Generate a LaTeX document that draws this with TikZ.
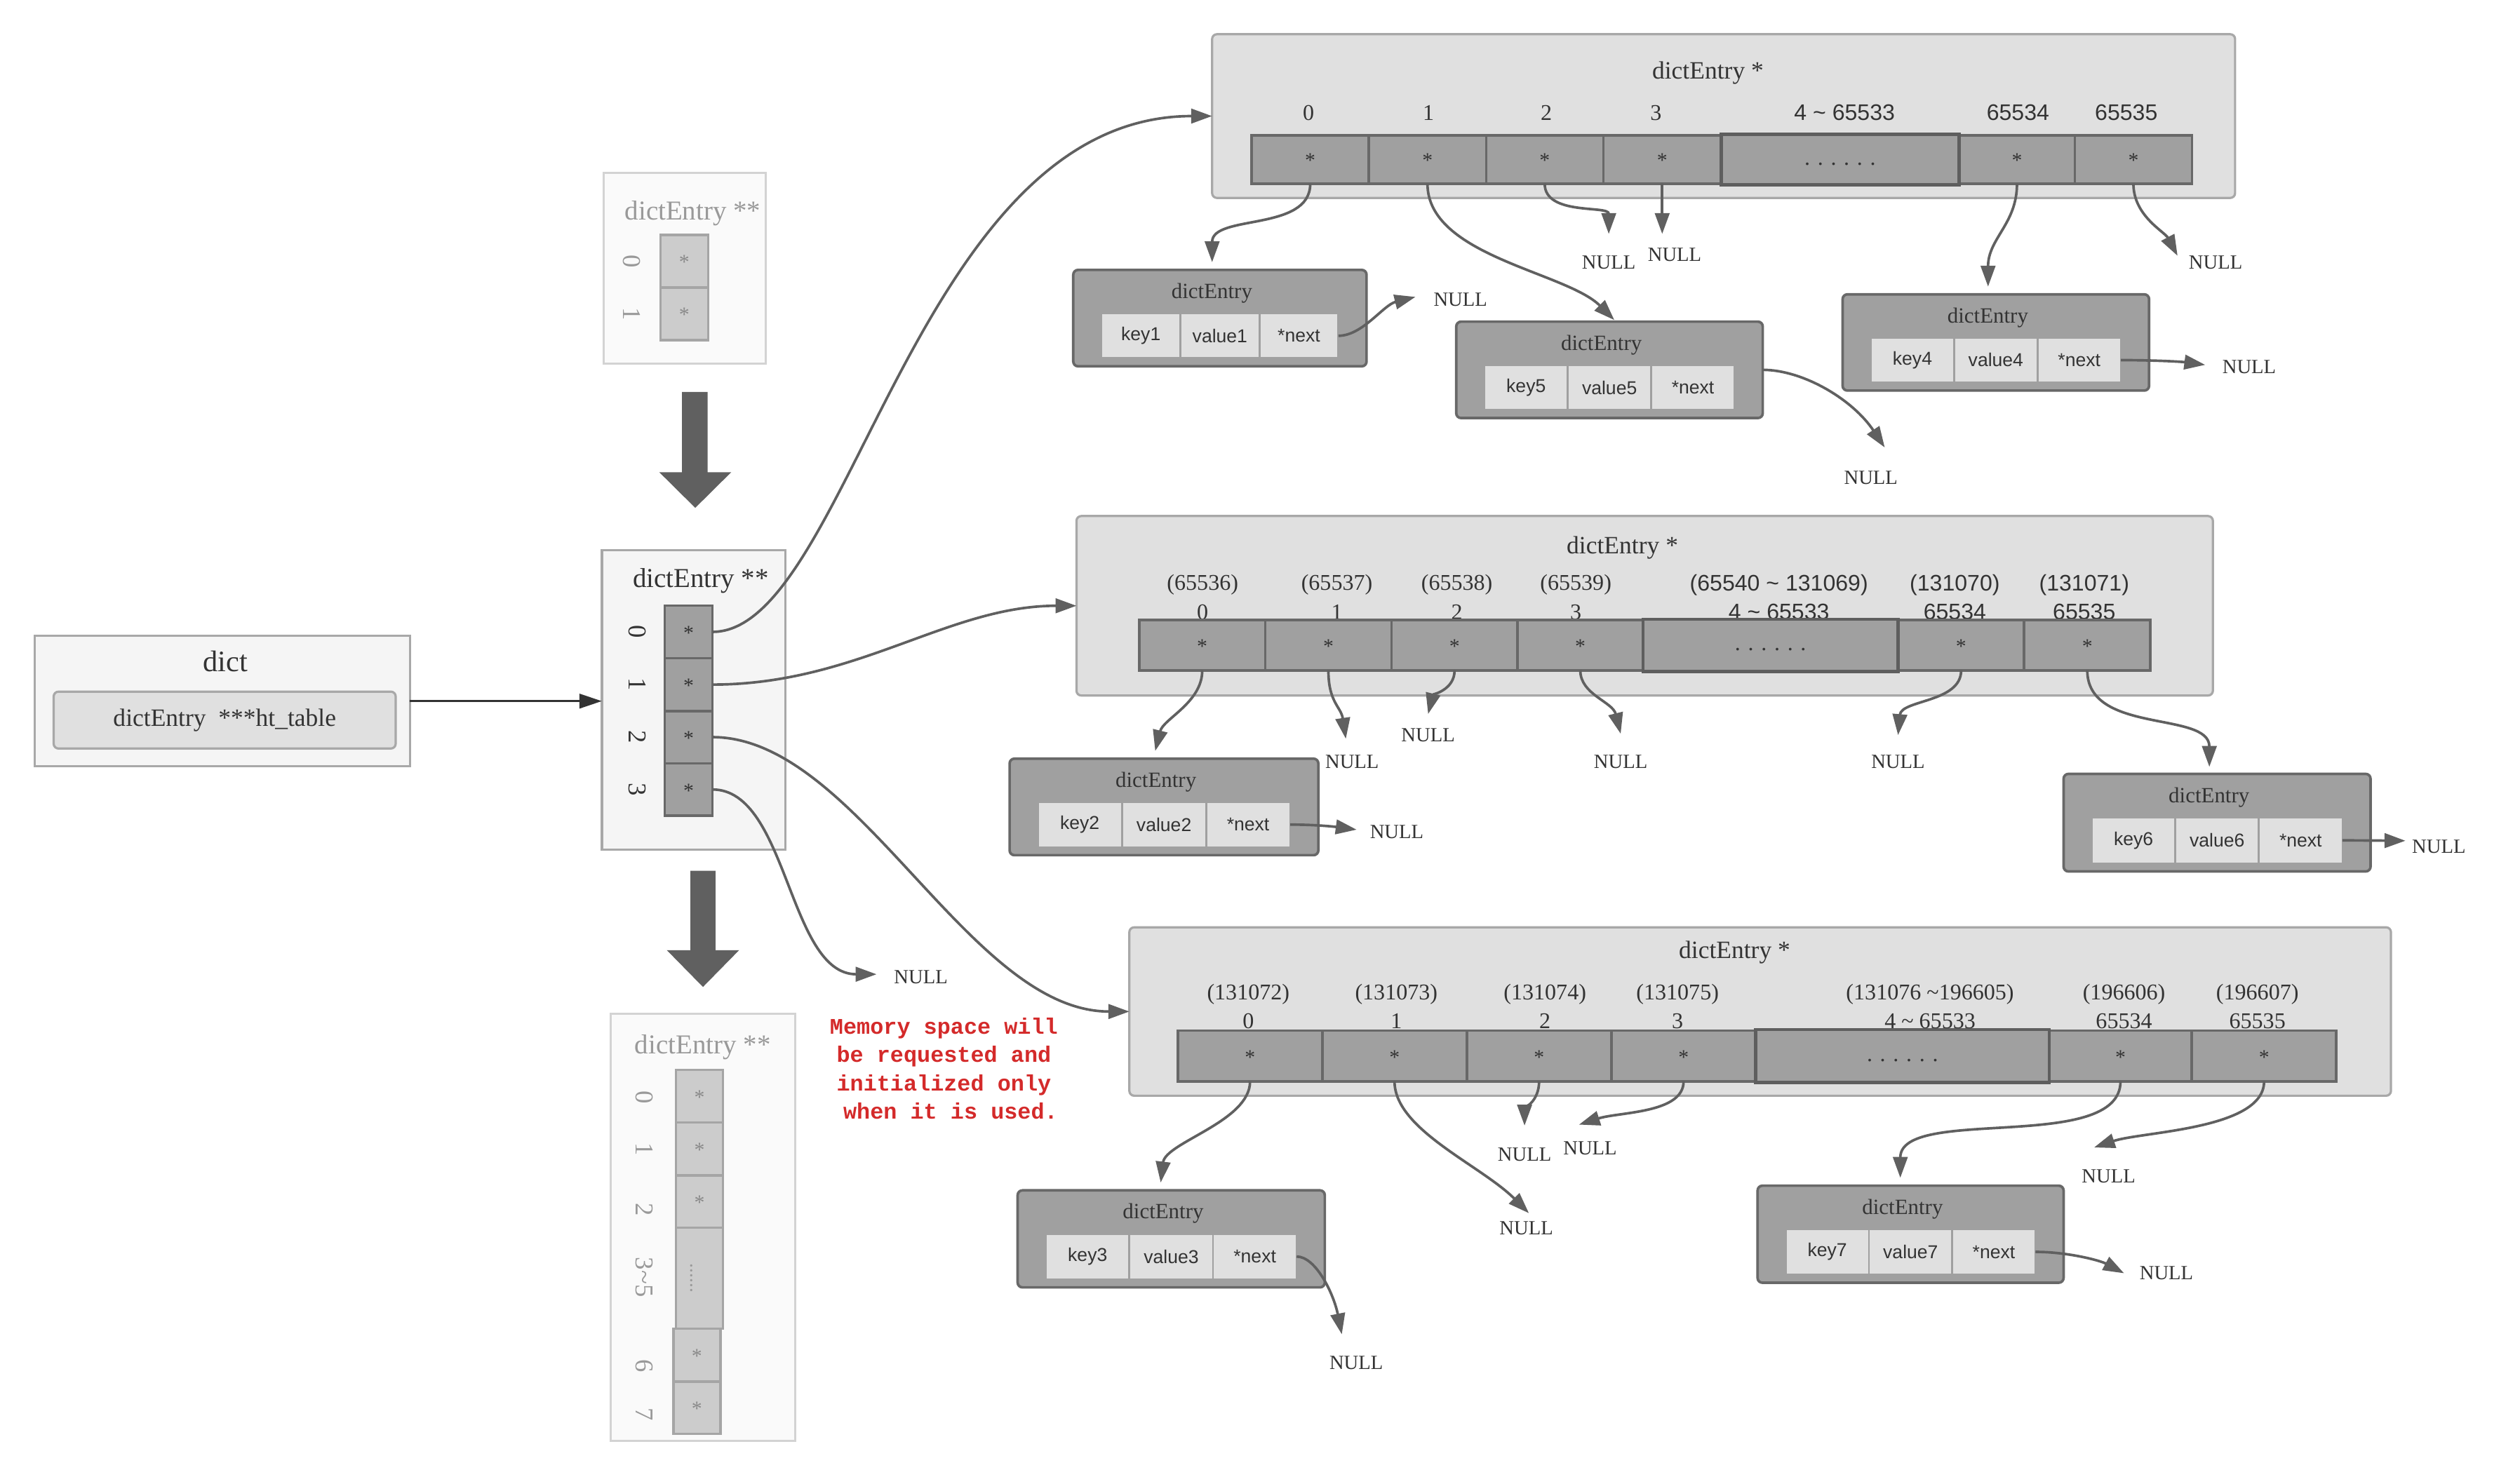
\documentclass[tikz,border=0pt]{standalone}
\usepackage{fontspec}
\setmainfont{Liberation Serif}
\setsansfont{Liberation Sans}
\setmonofont{Liberation Mono}
\usetikzlibrary{arrows.meta}
\definecolor{txt}{HTML}{333333}
\definecolor{cont}{HTML}{E0E0E0}
\definecolor{contb}{HTML}{A8A8A8}
\definecolor{cellf}{HTML}{A0A0A0}
\definecolor{cellb}{HTML}{686868}
\definecolor{lite}{HTML}{E0E0E0}
\definecolor{arr}{HTML}{606060}
\definecolor{panef}{HTML}{F5F5F5}
\definecolor{fadef}{HTML}{FAFAFA}
\definecolor{fadeb}{HTML}{D3D3D3}
\definecolor{fadecell}{HTML}{CCCCCC}
\definecolor{fadecellb}{HTML}{A5A5A5}
\definecolor{fadetxt}{HTML}{999999}
\definecolor{memred}{HTML}{D42A2A}
\tikzset{
  every node/.style={inner sep=0pt,outer sep=0pt,text=txt},
  container/.style={draw=contb,fill=cont,line width=1.4pt,rounded corners=3pt},
  pane/.style={draw=contb,fill=panef,line width=1.4pt},
  fadepane/.style={draw=fadeb,fill=fadef,line width=1.4pt},
  innerbox/.style={draw=contb,fill=cont,line width=1.4pt,rounded corners=3pt,font=\fontsize{15.5}{15.5}\selectfont},
  tcell/.style={draw=cellb,fill=cellf,line width=1.6pt,font=\fontsize{13}{13}\selectfont,text height=1em,text depth=0pt},
  dotcell/.style={draw=cellb!90!black,fill=cellf,line width=2pt,font=\fontsize{14}{14}\selectfont,text height=0.67em,text depth=0pt},
  fcell/.style={draw=fadecellb,fill=fadecell,line width=1.5pt,text=fadetxt!90!black,font=\fontsize{13}{13}\selectfont,text height=1em,text depth=0pt},
  ebox/.style={draw=cellb,fill=cellf,line width=1.6pt,rounded corners=3pt},
  ecell/.style={draw=cellf,fill=lite,line width=1.2pt,font=\sffamily\fontsize{11.6}{11.6}\selectfont},
  etitle/.style={font=\fontsize{13.5}{13.5}\selectfont},
  ttitle/.style={font=\fontsize{15.5}{15.5}\selectfont},
  ptitle/.style={font=\fontsize{17}{17}\selectfont},
  dtitle/.style={font=\fontsize{18.5}{18.5}\selectfont},
  idx/.style={font=\fontsize{14}{14}\selectfont},
  sidx/.style={font=\sffamily\fontsize{14}{14}\selectfont},
  rowlab/.style={font=\fontsize{16}{16}\selectfont,rotate=-90},
  null/.style={font=\fontsize{12.5}{12.5}\selectfont},
  conn/.style={draw=arr,line width=1.6pt,-{Triangle[length=13pt,width=9pt]}},
  darr/.style={draw=black!80,line width=1.4pt,-{Triangle[length=14pt,width=9pt]}},
  bigarr/.style={fill=arr},
  memo/.style={font=\ttfamily\bfseries\fontsize{13.9}{17.5}\selectfont,text=memred,align=center}
}
\newcommand\cornerbox[7]{\node[#1,anchor=north west,minimum width=#4pt-#2pt,minimum height=#5pt-#3pt] (#6) at (#2,#3) {#7};}
\newcommand\dictentrybox[6]{%
  \pgfmathsetmacro\eXl{#2+17.5}\pgfmathsetmacro\eXr{#4-17.5}%
  \pgfmathsetmacro\eXw{(\eXr-\eXl)/3}%
  \pgfmathsetmacro\eXa{\eXl+\eXw}\pgfmathsetmacro\eXb{\eXl+2*\eXw}%
  \pgfmathsetmacro\eXt{#3+27}\pgfmathsetmacro\eXu{#5-5}%
  \cornerbox{ebox}{#2}{#3}{#4}{#5}{#1}{}%
  \node[etitle] (#1t) at ({(#2+#4)/2-5},{#3+14.5}) {dictEntry};%
  \cornerbox{ecell}{\eXl}{\eXt}{\eXa}{\eXu}{#1k}{key#6}%
  \cornerbox{ecell}{\eXa}{\eXt}{\eXb}{\eXu}{#1v}{value#6}%
  \cornerbox{ecell}{\eXb}{\eXt}{\eXr}{\eXu}{#1n}{*next}%
}
\begin{document}
\begin{tikzpicture}[x=1pt,y=-1pt]
\fill[white] (0,0) rectangle (1568,923.3);
\useasboundingbox (0,0) rectangle (1568,923.3);

% ---------------- dict
\cornerbox{pane}{21.7}{395.8}{255}{477}{dict}{}
\node[dtitle] (dictT) at (140.3,411.6) {dict};
\cornerbox{innerbox}{33.4}{430.5}{246.2}{465.9}{httable}{dictEntry\ \ ***ht\_table}

% ---------------- faded top column
\cornerbox{fadepane}{375.5}{107.6}{476.4}{226.5}{fa}{}
\node[ptitle,text=fadetxt] (faT) at (431.1,132.7) {dictEntry **};
\cornerbox{fcell}{410.9}{146.3}{440.6}{178.9}{fa0}{*}
\cornerbox{fcell}{410.9}{178.9}{440.6}{211.7}{fa1}{*}
\node[rowlab,text=fadetxt] (fal0) at (393.2,162.6) {0};
\node[rowlab,text=fadetxt] (fal1) at (393.2,195.3) {1};

% ---------------- big arrows
\fill[bigarr] (424.3,244) -- (440.3,244) -- (440.3,293.9) -- (455,293.9) -- (432.6,316.1) -- (410.2,293.9) -- (424.3,293.9) -- cycle;
\fill[bigarr] (429.6,542) -- (445.2,542) -- (445.2,591.4) -- (459.9,591.4) -- (437.4,614.3) -- (414.9,591.4) -- (429.6,591.4) -- cycle;

% ---------------- middle column
\cornerbox{pane}{374.5}{342.3}{488.7}{529}{mcol}{}
\node[ptitle] (mcolT) at (436,361.5) {dictEntry **};
\cornerbox{tcell}{413.6}{376.9}{443.3}{409.7}{m0}{*}
\cornerbox{tcell}{413.6}{409.7}{443.3}{442.5}{m1}{*}
\cornerbox{tcell}{413.6}{442.5}{443.3}{475.1}{m2}{*}
\cornerbox{tcell}{413.6}{475.1}{443.3}{507.7}{m3}{*}
\node[rowlab] (ml0) at (396.6,393.3) {0};
\node[rowlab] (ml1) at (396.6,426.1) {1};
\node[rowlab] (ml2) at (396.6,458.8) {2};
\node[rowlab] (ml3) at (396.6,491.4) {3};

% ---------------- faded bottom column
\cornerbox{fadepane}{380}{631.1}{494.9}{896.8}{fb}{}
\node[ptitle,text=fadetxt] (fbT) at (437.3,651.6) {dictEntry **};
\cornerbox{fcell}{420.5}{666}{449.9}{698.6}{fb0}{*}
\cornerbox{fcell}{420.5}{698.6}{449.9}{731.6}{fb1}{*}
\cornerbox{fcell}{420.5}{731.6}{449.9}{764.1}{fb2}{*}
\cornerbox{fcell}{420.5}{764.1}{449.9}{827}{fb3}{}
\cornerbox{fcell}{419}{827}{448.3}{859.9}{fb6}{*}
\cornerbox{fcell}{419}{859.9}{448.3}{892.4}{fb7}{*}
\node[rotate=-90,text=fadetxt,font=\fontsize{12}{12}\selectfont] (fb3d) at (430.5,795.5) {......};
\node[rowlab,text=fadetxt] (fbl0) at (401.1,683) {0};
\node[rowlab,text=fadetxt] (fbl1) at (401.1,715.4) {1};
\node[rowlab,text=fadetxt] (fbl2) at (401.1,752.7) {2};
\node[rowlab,text=fadetxt] (fbl3) at (401.1,795) {3\textasciitilde 5};
\node[rowlab,text=fadetxt] (fbl6) at (401.1,850.3) {6};
\node[rowlab,text=fadetxt] (fbl7) at (401.1,880.4) {7};

% ---------------- top table
\cornerbox{container}{754.2}{21.3}{1390.7}{123.2}{t0}{}
\node[ttitle] (t0T) at (1062.7,45.3) {dictEntry *};
\node[idx] (t0l0) at (814.2,70.2) {0};
\node[idx] (t0l1) at (888.8,70.2) {1};
\node[idx] (t0l2) at (962.2,70.2) {2};
\node[idx] (t0l3) at (1030.4,70.2) {3};
\node[sidx] (t0l4) at (1147.7,70.2) {4 \textasciitilde{} 65533};
\node[sidx] (t0l5) at (1255.6,70.2) {65534};
\node[sidx] (t0l6) at (1323,70.2) {65535};
\cornerbox{tcell}{778.8}{84.2}{851.7}{114.4}{t0c0}{*}
\cornerbox{tcell}{851.7}{84.2}{924.7}{114.4}{t0c1}{*}
\cornerbox{tcell}{924.7}{84.2}{997.6}{114.4}{t0c2}{*}
\cornerbox{tcell}{997.6}{84.2}{1070.9}{114.4}{t0c3}{*}
\cornerbox{tcell}{1219}{84.2}{1291}{114.4}{t0c5}{*}
\cornerbox{tcell}{1291}{84.2}{1363.9}{114.4}{t0c6}{*}
\cornerbox{dotcell}{1070.9}{83.6}{1219}{115}{t0c4}{. . . . . .}

% ---------------- middle table
\cornerbox{container}{669.8}{321.2}{1376.9}{432.9}{t1}{}
\node[ttitle] (t1T) at (1009.5,341.1) {dictEntry *};
\node[idx] (t1p0) at (748.3,364.1) {(65536)};
\node[idx] (t1p1) at (831.8,364.1) {(65537)};
\node[idx] (t1p2) at (906.5,364.1) {(65538)};
\node[idx] (t1p3) at (980.5,364.1) {(65539)};
\node[sidx] (t1p4) at (1106.9,364.1) {(65540 \textasciitilde{} 131069)};
\node[sidx] (t1p5) at (1216.3,364.1) {(131070)};
\node[sidx] (t1p6) at (1296.8,364.1) {(131071)};
\node[idx] (t1l0) at (748.3,380.9) {0};
\node[idx] (t1l1) at (831.8,380.9) {1};
\node[idx] (t1l2) at (906.5,380.9) {2};
\node[idx] (t1l3) at (980.5,380.9) {3};
\node[sidx] (t1l4) at (1106.9,380.9) {4 \textasciitilde{} 65533};
\node[sidx] (t1l5) at (1216.3,380.9) {65534};
\node[sidx] (t1l6) at (1296.8,380.9) {65535};
\cornerbox{tcell}{708.8}{386}{787.3}{417.3}{t1c0}{*}
\cornerbox{tcell}{787.3}{386}{865.8}{417.3}{t1c1}{*}
\cornerbox{tcell}{865.8}{386}{944.3}{417.3}{t1c2}{*}
\cornerbox{tcell}{944.3}{386}{1022.3}{417.3}{t1c3}{*}
\cornerbox{tcell}{1181}{386}{1259.5}{417.3}{t1c5}{*}
\cornerbox{tcell}{1259.5}{386}{1338}{417.3}{t1c6}{*}
\cornerbox{dotcell}{1022.3}{385.4}{1181}{417.9}{t1c4}{. . . . . .}

% ---------------- bottom table
\cornerbox{container}{702.7}{577.2}{1487.7}{682}{t2}{}
\node[ttitle] (t2T) at (1079.3,592.8) {dictEntry *};
\node[idx] (t2p0) at (776.7,618.7) {(131072)};
\node[idx] (t2p1) at (868.8,618.7) {(131073)};
\node[idx] (t2p2) at (961.3,618.7) {(131074)};
\node[idx] (t2p3) at (1043.8,618.7) {(131075)};
\node[idx] (t2p4) at (1200.9,618.7) {(131076 \textasciitilde196605)};
\node[idx] (t2p5) at (1321.6,618.7) {(196606)};
\node[idx] (t2p6) at (1404.6,618.7) {(196607)};
\node[idx] (t2l0) at (776.7,635.7) {0};
\node[idx] (t2l1) at (868.8,635.7) {1};
\node[idx] (t2l2) at (961.3,635.7) {2};
\node[idx] (t2l3) at (1043.8,635.7) {3};
\node[idx] (t2l4) at (1200.9,635.7) {4 \textasciitilde{} 65533};
\node[idx] (t2l5) at (1321.6,635.7) {65534};
\node[idx] (t2l6) at (1404.6,635.7) {65535};
\cornerbox{tcell}{732.9}{641.5}{822.7}{673.1}{t2c0}{*}
\cornerbox{tcell}{822.7}{641.5}{912.7}{673.1}{t2c1}{*}
\cornerbox{tcell}{912.7}{641.5}{1002.6}{673.1}{t2c2}{*}
\cornerbox{tcell}{1002.6}{641.5}{1092.5}{673.1}{t2c3}{*}
\cornerbox{tcell}{1275}{641.5}{1363.8}{673.1}{t2c5}{*}
\cornerbox{tcell}{1363.8}{641.5}{1453.7}{673.1}{t2c6}{*}
\cornerbox{dotcell}{1092.5}{640.9}{1275}{673.7}{t2c4}{. . . . . .}

% ---------------- dictEntry boxes
\dictentrybox{e1}{667.8}{168}{850.3}{228}{1}
\dictentrybox{e5}{906.1}{200.2}{1096.8}{260.2}{5}
\dictentrybox{e4}{1146.5}{183.2}{1337.2}{243.1}{4}
\dictentrybox{e2}{628.2}{472.2}{820.3}{532.3}{2}
\dictentrybox{e6}{1284}{481.7}{1475}{542.4}{6}
\dictentrybox{e3}{633.2}{740.9}{824.3}{801.3}{3}
\dictentrybox{e7}{1093.6}{738}{1284}{798.4}{7}

% ---------------- NULL ends
\coordinate (mN) at (545.4,606.4);      \node[null] (mNt) at (573,608) {NULL};
\coordinate (t0n2) at (1001,145.6);     \node[null] (t0N2) at (1001,163.2) {NULL};
\coordinate (t0n3) at (1034.25,145.6);  \node[null] (t0N3) at (1042,158.7) {NULL};
\coordinate (t0n6) at (1354.9,159.2);   \node[null] (t0N6) at (1378.6,163.2) {NULL};
\coordinate (e1x) at (880.7,184.8);     \node[null] (e1N) at (908.7,186.5) {NULL};
\coordinate (e5x) at (1172.7,278.5);    \node[null] (e5N) at (1164.1,297.6) {NULL};
\coordinate (e4x) at (1372.1,227.1);    \node[null] (e4N) at (1399.5,228.4) {NULL};
\coordinate (t1n1) at (837.4,459.8);    \node[null] (t1N1) at (841.3,474.3) {NULL};
\coordinate (t1n2) at (888.6,444.4);    \node[null] (t1N2) at (888.6,457.5) {NULL};
\coordinate (t1n3) at (1008.4,456.7);   \node[null] (t1N3) at (1008.4,474.3) {NULL};
\coordinate (t1n5) at (1181,457.5);     \node[null] (t1N5) at (1181,474.3) {NULL};
\coordinate (e2x) at (844.1,516.4);     \node[null] (e2N) at (869.1,518) {NULL};
\coordinate (e6x) at (1496.7,523.3);    \node[null] (e6N) at (1517.5,527) {NULL};
\coordinate (t2n1) at (951.3,755.1);    \node[null] (t2N1) at (949.7,764.3) {NULL};
\coordinate (t2n2) at (948.6,700.6);    \node[null] (t2N2) at (948.6,718.5) {NULL};
\coordinate (t2n3) at (982.5,700);      \node[null] (t2N3) at (989.4,714.6) {NULL};
\coordinate (t2n6) at (1303,714.2);     \node[null] (t2N6) at (1312,732.1) {NULL};
\coordinate (e3x) at (834.9,830.5);     \node[null] (e3N) at (843.9,848.1) {NULL};
\coordinate (e7x) at (1321.6,792.5);    \node[null] (e7N) at (1348,792.5) {NULL};

% ---------------- connectors
\draw[darr] (dict.east) -- (dict.east -| mcol.west);
\draw[conn] (m0.east) .. controls +(85,0) and +(-185,0) .. (t0.west);
\draw[conn] (m1.east) .. controls +(90,0) and +(-80,0) .. (t1.west);
\draw[conn] (m2.east) .. controls +(90,0) and +(-100,0) .. (t2.west);
\draw[conn] (m3.east) .. controls +(47,0) and +(-55,0) .. (mN);

\draw[conn] (t0c0.south) .. controls +(0,30) and +(0,-30) .. ([xshift=-4.85pt,yshift=4.8pt]e1.north);
\draw[conn] (t0c1.south) .. controls +(0,45) and +(-30,-30) .. ([xshift=3pt,yshift=1pt]e5.north);
\draw[conn] (t0c2.south) .. controls +(0,20) and +(0,-18) .. (t0n2);
\draw[conn] (t0c3.south) -- (t0n3);
\draw[conn] (t0c5.south) .. controls +(0,25) and +(0,-30) .. ([xshift=-4.85pt,yshift=4.8pt]e4.north);
\draw[conn] (t0c6.south) .. controls +(0,20) and +(-8,-15) .. (t0n6);
\draw[conn] (e1n.east) .. controls +(15,0) and +(-20,5) .. (e1x);
\draw[conn] (e5.east) .. controls +(25,0) and +(-20,-30) .. (e5x);
\draw[conn] (e4n.east) .. controls +(20,0) and +(-15,-2) .. (e4x);

\draw[conn] (t1c0.south) .. controls +(0,20) and +(5,-20) .. ([xshift=-5.45pt,yshift=4.8pt]e2.north);
\draw[conn] (t1c1.south) .. controls +(0,20) and +(-3,-20) .. (t1n1);
\draw[conn] (t1c2.south) .. controls +(0,12) and +(3,-12) .. (t1n2);
\draw[conn] (t1c3.south) .. controls +(0,15) and +(-5,-20) .. (t1n3);
\draw[conn] (t1c5.south) .. controls +(0,20) and +(2,-22) .. (t1n5);
\draw[conn] (t1c6.south) .. controls +(0,40) and +(0,-35) .. ([xshift=-4.8pt,yshift=4.4pt]e6.north);
\draw[conn] (e2n.east) .. controls +(15,0) and +(-15,-2) .. (e2x);
\draw[conn] (e6n.east) -- (e6x);

\draw[conn] (t2c0.south) .. controls +(0,25) and +(3,-25) .. ([xshift=-6.55pt,yshift=4.9pt]e3.north);
\draw[conn] (t2c1.south) .. controls +(0,30) and +(-30,-30) .. (t2n1);
\draw[conn] (t2c2.south) .. controls +(0,12) and +(0,-10) .. (t2n2);
\draw[conn] (t2c3.south) .. controls +(0,20) and +(25,-8) .. (t2n3);
\draw[conn] (t2c5.south) .. controls +(0,45) and +(0,-45) .. ([xshift=-6.4pt,yshift=4.9pt]e7.north);
\draw[conn] (t2c6.south) .. controls +(0,30) and +(30,-10) .. (t2n6);
\draw[conn] (e3n.east) .. controls +(12,0) and +(-5,-25) .. (e3x);
\draw[conn] (e7n.east) .. controls +(20,0) and +(-15,-8) .. (e7x);

% ---------------- note
\node[memo] (note) at (587.3,665.1) {Memory space will\\be requested and\\initialized only\\\hphantom{w}when it is used.};
\end{tikzpicture}
\end{document}
